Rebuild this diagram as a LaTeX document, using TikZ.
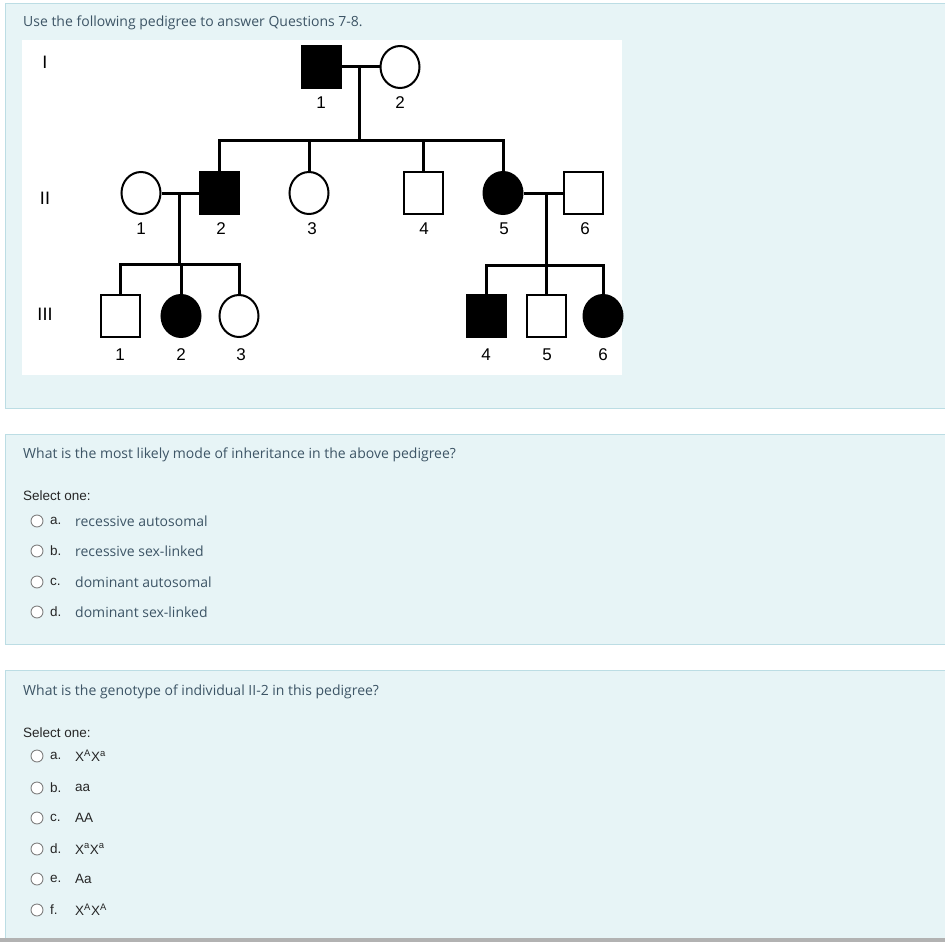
\documentclass[tikz,border=0pt]{standalone}
\usepackage{fontspec}
\setmainfont{Open Sans}
\newfontfamily\arialf{Liberation Sans}
\definecolor{panel}{HTML}{E7F4F6}
\definecolor{pborder}{HTML}{BCDDE4}
\definecolor{qtext}{HTML}{3D5566}
\begin{document}
\begin{tikzpicture}[x=1pt,y=-1pt,
  pl/.style={line width=3pt},
  sq/.style={draw,line width=2pt,minimum width=39pt,minimum height=42pt,inner sep=0pt},
  ci/.style={draw,line width=2pt,ellipse,minimum width=39pt,minimum height=42pt,inner sep=0pt},
  aff/.style={fill=black},
  num/.style={font=\arialf\fontsize{17}{17}\selectfont},
  qt/.style={font=\fontsize{14}{16}\selectfont,text=qtext,anchor=west,inner sep=0pt},
  sel/.style={font=\arialf\fontsize{13.5}{16}\selectfont,text=black!85,anchor=west,inner sep=0pt},
  radio/.style={draw=gray,line width=0.9pt,circle,minimum size=12pt,inner sep=0pt,fill=white},
  lt/.style={font=\arialf\fontsize{13.5}{16}\selectfont,text=black!85,anchor=west,inner sep=0pt},
  ot/.style={font=\fontsize{14}{16}\selectfont,text=qtext,anchor=west,inner sep=0pt}]
\usetikzlibrary{shapes.geometric}
\useasboundingbox (0,0) rectangle (945,942);
\fill[white] (0,0) rectangle (945,942);
% panels
\draw[pborder,fill=panel] (5,3) rectangle (950,408);
\draw[pborder,fill=panel] (5,434) rectangle (950,644);
\draw[pborder,fill=panel] (5,670) rectangle (950,938);
\fill[black!30] (0,938) rectangle (945,942);
\node[qt] (t0) at (23,23) {Use the following pedigree to answer Questions 7-8.};
\fill[white] (22,40) rectangle (622,375);
% generation labels
\node[num,font=\arialf\fontsize{18}{18}\selectfont] (g1) at (45,62) {I};
\node[num,font=\arialf\fontsize{18}{18}\selectfont] (g2) at (45,198) {II};
\node[num,font=\arialf\fontsize{18}{18}\selectfont] (g3) at (45,314) {III};
% generation I
\node[sq,aff] (i1) at (321,67) {};
\node[ci] (i2) at (400,67) {};
\coordinate (m1) at (359,67);
\coordinate (s1) at (359,140);
% generation II
\node[ci] (ii1) at (141,193) {};
\node[sq,aff] (ii2) at (219,193) {};
\node[ci] (ii3) at (309,193) {};
\node[sq] (ii4) at (423,193) {};
\node[ci,aff] (ii5) at (503,193) {};
\node[sq] (ii6) at (583,193) {};
% generation III
\node[sq] (iii1) at (120,316) {};
\node[ci,aff] (iii2) at (181,316) {};
\node[ci] (iii3) at (239,316) {};
\node[sq,aff] (iii4) at (486,316) {};
\node[sq] (iii5) at (546,316) {};
\node[ci,aff] (iii6) at (603,316) {};
% lines
\draw[pl] (i1.east) -- (i2.west);
\draw[pl] (m1) -- (s1);
\draw[pl] (ii2.north) -- (ii2.north |- s1) -- (ii5.north |- s1) -- (ii5.north);
\draw[pl] (ii3.north |- s1) -- (ii3.north);
\draw[pl] (ii4.north |- s1) -- (ii4.north);
\draw[pl] (ii1.east) -- (ii2.west);
\draw[pl] (ii5.east) -- (ii6.west);
\coordinate (m2) at (179,193);
\coordinate (s2) at (179,264);
\draw[pl] (m2) -- (s2);
\draw[pl] (iii1.north) -- (iii1.north |- s2) -- (iii3.north |- s2) -- (iii3.north);
\draw[pl] (iii2.north |- s2) -- (iii2.north);
\coordinate (m3) at (546,193);
\coordinate (s3) at (546,265);
\draw[pl] (m3) -- (s3);
\draw[pl] (iii4.north) -- (iii4.north |- s3) -- (iii6.north |- s3) -- (iii6.north);
\draw[pl] (iii5.north |- s3) -- (iii5.north);
% numbers
\node[num] (n11) at (321,103) {1};
\node[num] (n12) at (400,103) {2};
\node[num] (n21) at (141,229) {1};
\node[num] (n22) at (221,229) {2};
\node[num] (n23) at (312,229) {3};
\node[num] (n24) at (424,229) {4};
\node[num] (n25) at (504,229) {5};
\node[num] (n26) at (585,229) {6};
\node[num] (n31) at (120,355) {1};
\node[num] (n32) at (181,355) {2};
\node[num] (n33) at (241,355) {3};
\node[num] (n34) at (486,355) {4};
\node[num] (n35) at (547,355) {5};
\node[num] (n36) at (603,355) {6};
% question 1
\node[qt] (q1) at (23,455) {What is the most likely mode of inheritance in the above pedigree?};
\node[sel] (s1t) at (23,496) {Select one:};
\foreach \y/\l/\t [count=\i] in {521/a./recessive autosomal,551/b./recessive sex-linked,582/c./dominant autosomal,612/d./dominant sex-linked}{
  \node[radio] (ra\i) at (37,\y) {};
  \node[lt] (la\i) at (50,\y) {\l};
  \node[ot] (ta\i) at (75,\y) {\t};
}
% question 2
\node[qt] (q2) at (23,692) {What is the genotype of individual II-2 in this pedigree?};
\node[sel] (s2t) at (23,733) {Select one:};
\foreach \y/\l/\t [count=\i] in {
  756/a./{X\textsuperscript{A}X\textsuperscript{a}},
  788/b./aa,
  818/c./AA,
  849/d./{X\textsuperscript{a}X\textsuperscript{a}},
  879/e./Aa,
  910/f./{X\textsuperscript{A}X\textsuperscript{A}}}{
  \node[radio] (rb\i) at (37,\y) {};
  \node[lt] (lb\i) at (50,\y) {\l};
  \node[lt] (tb\i) at (75,\y) {\t};
}
\end{tikzpicture}
\end{document}
